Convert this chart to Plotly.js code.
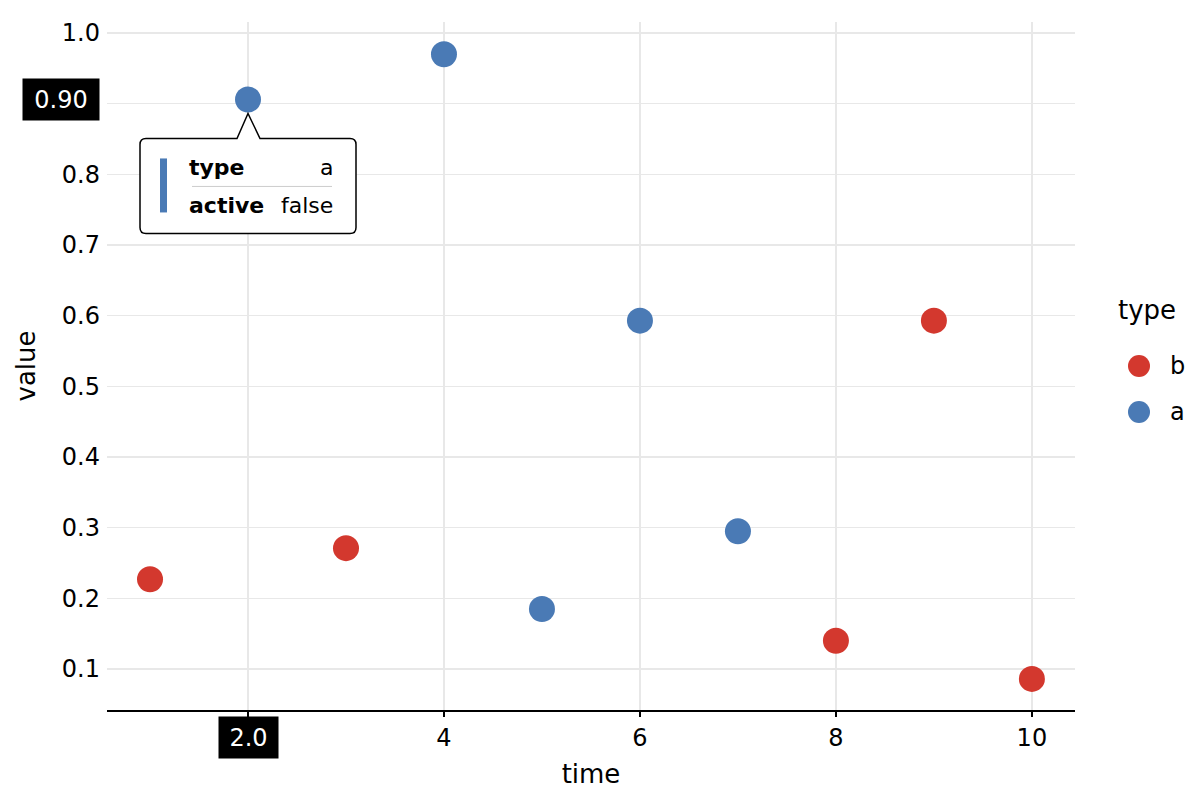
<!DOCTYPE html>
<html>
<head>
<meta charset="utf-8">
<script src="https://cdn.plot.ly/plotly-3.0.1.min.js"></script>
<style>html,body{margin:0;padding:0;background:#fff;}#chart{width:1196px;height:796px;}</style>
</head>
<body>
<div id="chart"></div>
<script>
// ---- data ----
const timeB = [1, 3, 8, 9, 10];
const valueB = [0.227, 0.271, 0.140, 0.593, 0.086];
const timeA = [2, 4, 5, 6, 7];
const valueA = [0.906, 0.970, 0.185, 0.593, 0.295];
const activeA = ['false', 'true', 'true', 'false', 'true'];
const seriesNames = ['b', 'a'];
const legendTitle = 'type';
const yTickVals = [0.1, 0.2, 0.3, 0.4, 0.5, 0.6, 0.7, 0.8, 0.9, 1.0];
const yTickText = ['0.1', '0.2', '0.3', '0.4', '0.5', '0.6', '0.7', '0.8', '', '1.0'];
const xTickVals = [2, 4, 6, 8, 10];
const xTickText = ['', '4', '6', '8', '10'];
const hoverIndex = 0; // hovered point in series a
const hoverYLabel = '0.90';
const hoverXLabel = '2.0';

const RED = '#d3382e', BLUE = '#4a7ab5';
const FONT = 'DejaVu Sans, sans-serif';
const colors = [RED, BLUE];

const hx = timeA[hoverIndex], hy = valueA[hoverIndex];

const traces = [
  {x: timeB, y: valueB, name: seriesNames[0], type: 'scatter', mode: 'markers',
   marker: {color: RED, size: 26}},
  {x: timeA, y: valueA, name: seriesNames[1], type: 'scatter', mode: 'markers',
   marker: {color: BLUE, size: 26}}
];

const tipPath = 'M -102,-39 L -11,-39 L 0,-14 L 12,-39 L 102,-39 Q 108,-39 108,-45 L 108,-128 Q 108,-134 102,-134 L -102,-134 Q -108,-134 -108,-128 L -108,-45 Q -108,-39 -102,-39 Z';

const shapes = [
  {type: 'path', xref: 'x', yref: 'y', xsizemode: 'pixel', ysizemode: 'pixel',
   xanchor: hx, yanchor: hy, path: tipPath, fillcolor: '#ffffff',
   line: {color: '#000000', width: 1.5}, layer: 'above'},
  {type: 'rect', xref: 'x', yref: 'y', xsizemode: 'pixel', ysizemode: 'pixel',
   xanchor: hx, yanchor: hy, x0: -88, x1: -81, y0: -59, y1: -113,
   fillcolor: BLUE, line: {width: 0}, layer: 'above'},
  {type: 'line', xref: 'x', yref: 'y', xsizemode: 'pixel', ysizemode: 'pixel',
   xanchor: hx, yanchor: hy, x0: -56, x1: 84, y0: -87, y1: -87,
   line: {color: '#cccccc', width: 1}, layer: 'above'}
];

const tipFont = {family: FONT, size: 22, color: '#000'};
const annotations = [
  {xref: 'x', yref: 'y', x: hx, y: hy, showarrow: false, xanchor: 'left', yanchor: 'middle',
   xshift: -61, yshift: -68, text: '<b>type</b>', font: tipFont},
  {xref: 'x', yref: 'y', x: hx, y: hy, showarrow: false, xanchor: 'right', yanchor: 'middle',
   xshift: 87, yshift: -68, text: seriesNames[1], font: tipFont},
  {xref: 'x', yref: 'y', x: hx, y: hy, showarrow: false, xanchor: 'left', yanchor: 'middle',
   xshift: -61, yshift: -106, text: '<b>active</b>', font: tipFont},
  {xref: 'x', yref: 'y', x: hx, y: hy, showarrow: false, xanchor: 'right', yanchor: 'middle',
   xshift: 87, yshift: -106, text: activeA[hoverIndex], font: tipFont},
  // highlighted axis labels
  {xref: 'paper', yref: 'y', x: 0, y: hy, showarrow: false, xanchor: 'right', yanchor: 'middle',
   xshift: -7, text: hoverYLabel, bgcolor: '#000', borderpad: 7, width: 62, height: 27,
   font: {family: FONT, size: 24, color: '#fff'}},
  {xref: 'x', yref: 'paper', x: hx, y: 0, showarrow: false, xanchor: 'center', yanchor: 'top',
   yshift: -6, text: hoverXLabel, bgcolor: '#000', borderpad: 7, width: 45, height: 27,
   font: {family: FONT, size: 24, color: '#fff'}}
];

// ---- manual legend (large markers) ----
const plotL = 107, plotR = 1075, plotT = 22, plotB = 710;
const px = X => (X - plotL) / (plotR - plotL);
const py = Y => (plotB - Y) / (plotB - plotT);
annotations.push({xref: 'paper', yref: 'paper', x: px(1116), y: py(310), xanchor: 'left', yanchor: 'middle',
  showarrow: false, text: legendTitle, font: {family: FONT, size: 26, color: '#000'}});
const legendRows = [366, 412];
seriesNames.forEach((nm, i) => {
  const cy = legendRows[i];
  shapes.push({type: 'circle', xref: 'paper', yref: 'paper',
    x0: px(1128), x1: px(1150), y0: py(cy + 11), y1: py(cy - 11),
    fillcolor: colors[i], line: {width: 0}});
  annotations.push({xref: 'paper', yref: 'paper', x: px(1168), y: py(cy), xanchor: 'left', yanchor: 'middle',
    showarrow: false, text: nm, font: {family: FONT, size: 24, color: '#000'}});
});

const layout = {
  width: 1196, height: 796,
  margin: {l: plotL, r: 1196 - plotR, t: plotT, b: 796 - plotB},
  paper_bgcolor: '#fff', plot_bgcolor: '#fff',
  font: {family: FONT, size: 24, color: '#000'},
  hovermode: false,
  showlegend: false,
  xaxis: {
    range: [0.561, 10.44], tickvals: xTickVals, ticktext: xTickText,
    showgrid: true, gridcolor: '#e8e8e8', gridwidth: 1.5, zeroline: false,
    showline: true, linecolor: '#000', linewidth: 2,
    ticks: 'outside', ticklen: 5, tickwidth: 2, tickcolor: '#000',
    tickfont: {size: 24},
    title: {text: 'time', font: {size: 26}, standoff: 14}
  },
  yaxis: {
    range: [0.042, 1.0156], tickvals: yTickVals, ticktext: yTickText,
    showgrid: true, gridcolor: '#e8e8e8', gridwidth: 1.5, zeroline: false,
    showline: false, ticks: '', ticklabelstandoff: 6,
    tickfont: {size: 24},
    title: {text: 'value', font: {size: 26}, standoff: 18}
  },
  shapes: shapes,
  annotations: annotations
};

Plotly.newPlot('chart', traces, layout, {displayModeBar: false, staticPlot: true});
</script>
</body>
</html>
